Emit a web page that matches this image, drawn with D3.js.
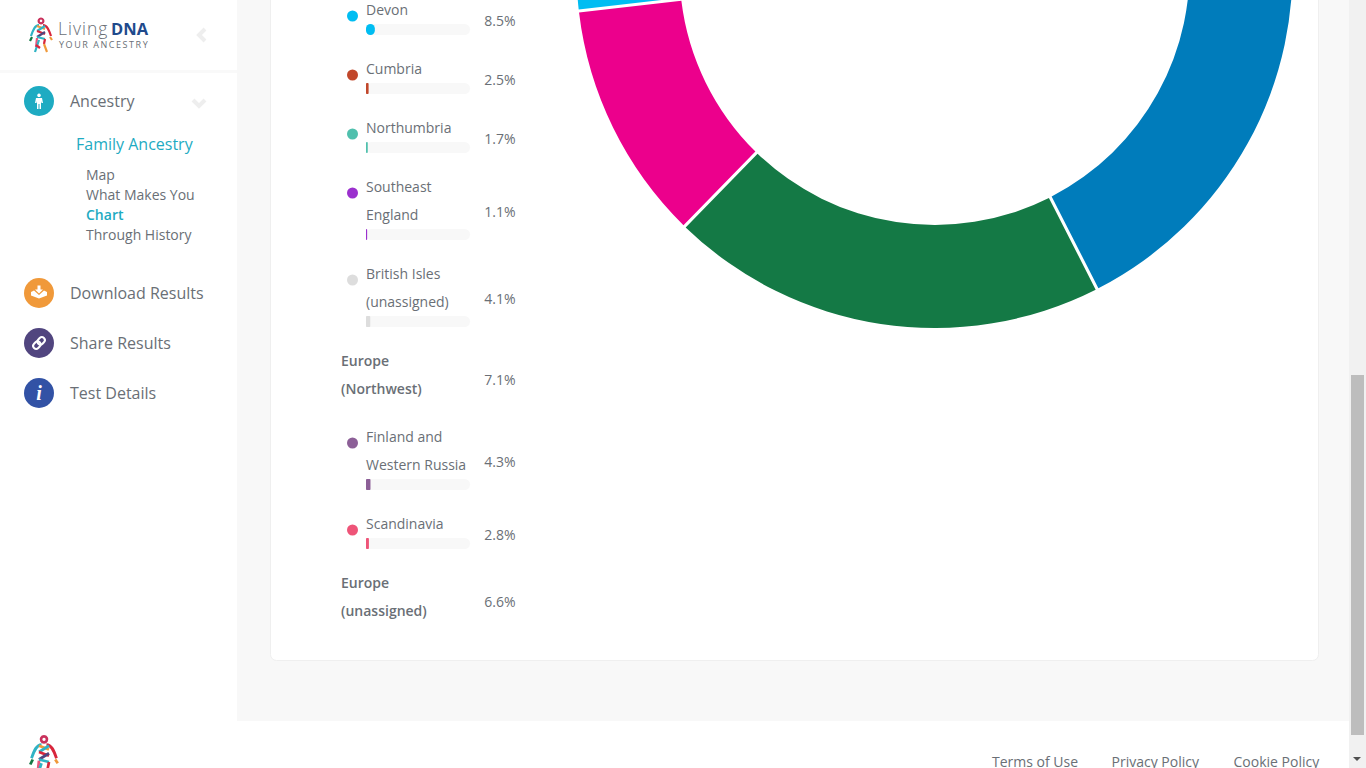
<!DOCTYPE html>
<html>
<head>
<meta charset="utf-8">
<title>Family Ancestry Chart</title>
<script src="https://cdnjs.cloudflare.com/ajax/libs/d3/7.8.5/d3.min.js"></script>
<style>
html, body { margin: 0; padding: 0; overflow: hidden; background: #f8f8f8; }
svg { display: block; }
text { font-family: "Open Sans", sans-serif; fill: #6a6f76; }
</style>
</head>
<body>
<script>
// ring slices, clockwise, most of them scrolled off the top of the page
var ringValues = [37.73, 19.8, 10.87, 8.5, 2.5, 1.7, 1.1, 4.1, 4.3, 2.8, 6.6];
var ringColors = ["#007cbb", "#147945", "#ec008c", "#00bdf2", "#c1472b", "#50c0ad", "#9b30ce", "#dddddd", "#8c5f97", "#ee5478", "#cccccc"];

var legendLabels = [
  ["Devon"], ["Cumbria"], ["Northumbria"], ["Southeast", "England"], ["British Isles", "(unassigned)"],
  ["Europe", "(Northwest)"], ["Finland and", "Western Russia"], ["Scandinavia"], ["Europe", "(unassigned)"]
];
var legendValues = [8.5, 2.5, 1.7, 1.1, 4.1, 7.1, 4.3, 2.8, 6.6];
var legendColors = ["#00bdf2", "#c1472b", "#50c0ad", "#9b30ce", "#dddddd", null, "#8c5f97", "#ee5478", null];

var subMenu = ["Map", "What Makes You", "Chart", "Through History"];
var mainMenu = ["Download Results", "Share Results", "Test Details"];
var mainMenuColors = ["#f0993a", "#51457f", "#3252a5"];
var footerLinks = ["Terms of Use", "Privacy Policy", "Cookie Policy"];

var width = 1366, height = 768;
var teal = "#1eabc2";

var svg = d3.select("body").append("svg")
  .attr("width", width)
  .attr("height", height);

// page blocks
svg.append("rect").attr("width", width).attr("height", height).attr("fill", "#f8f8f8");
svg.append("rect").attr("width", 237).attr("height", height).attr("fill", "#fff");
svg.append("rect").attr("y", 70).attr("width", 237).attr("height", 3).attr("fill", "#f9f9f9");
svg.append("rect").attr("x", 270.5).attr("y", -40).attr("width", 1048).attr("height", 700.5)
  .attr("rx", 6).attr("fill", "#fff").attr("stroke", "#efefef");
svg.append("rect").attr("y", 721).attr("width", width).attr("height", 47).attr("fill", "#fff");
svg.append("rect").attr("x", 1349).attr("width", 17).attr("height", height).attr("fill", "#f1f1f1");
svg.append("rect").attr("x", 1351).attr("y", 375).attr("width", 13).attr("height", 360).attr("fill", "#bdbdbd");
svg.append("path").attr("d", "M1353,757h8l-4,4z").attr("fill", "#505050");

// donut
var cx = 934.5, cy = -30;
var pie = d3.pie().sort(null)
  .startAngle(17.17 * Math.PI / 180)
  .endAngle(377.17 * Math.PI / 180);
var arc = d3.arc().innerRadius(255).outerRadius(358).padAngle(0.007);

svg.append("g").attr("transform", "translate(" + cx + "," + cy + ")")
  .selectAll("path")
  .data(pie(ringValues))
  .enter().append("path")
  .attr("d", arc)
  .attr("fill", function(d, i) { return ringColors[i]; });

// legend
var lineHeight = 28, barHeight = 11, rowGap = 20;
var barScale = d3.scaleLinear().domain([0, 100]).range([0, 104]);
var legend = svg.append("g");
var rowTop = -4;

legendLabels.forEach(function(lines, i) {
  var isGroup = legendColors[i] === null;
  var textH = lines.length * lineHeight;
  var rowH = textH + (isGroup ? 0 : barHeight);
  var textX = isGroup ? 341 : 366;

  lines.forEach(function(line, j) {
    legend.append("text")
      .attr("x", textX)
      .attr("y", rowTop + j * lineHeight + 19)
      .attr("font-size", 14)
      .attr("font-weight", isGroup ? 600 : 400)
      .text(line);
  });

  legend.append("text")
    .attr("x", 515.5)
    .attr("y", rowTop + rowH / 2 + 10.2)
    .attr("text-anchor", "end")
    .attr("font-size", 14)
    .text(legendValues[i].toFixed(1) + "%");

  if (!isGroup) {
    legend.append("circle").attr("cx", 352.5).attr("cy", rowTop + 20).attr("r", 5.5)
      .attr("fill", legendColors[i]);
    legend.append("rect").attr("x", 366).attr("y", rowTop + textH)
      .attr("width", barScale(100)).attr("height", barHeight).attr("rx", 5.5)
      .attr("fill", "#f8f8f8");
    var w = barScale(legendValues[i]);
    legend.append("rect").attr("x", 366).attr("y", rowTop + textH)
      .attr("width", w).attr("height", barHeight)
      .attr("rx", w > 6 ? 4.5 : 0.8)
      .attr("fill", legendColors[i]);
  }
  rowTop += rowH + rowGap;
});

// little dna figure from the logo
var figureBits = [
  ["#c9315c", "M0,-16.5a2.4,2.4 0 1,0 .01,0"],
  ["#2fb3c4", "M-2,-10C-6,-10 -8,-5 -10,1"],
  ["#d8263c", "M2,-10C6,-10 8,-5 10,1"],
  ["#f0993a", "M-4,-9L4,-6"],
  ["#2fb3c4", "M4,-9L-4,-4"],
  ["#d8263c", "M-4,-4L4,-1"],
  ["#51457f", "M4,-3L-4,2"],
  ["#2fb3c4", "M-4,2L4,4"],
  ["#e8567c", "M-4,3L-5,12"],
  ["#2fb3c4", "M-2,5L-6,17"],
  ["#d8263c", "M-5,10L-1,13"],
  ["#d8263c", "M4,4L3,9"],
  ["#f0993a", "M3,9L6,17"],
  ["#147945", "M-9,2L-11,6"],
  ["#f0993a", "M9,2L11,5"]
];

function drawFigure(x, y, k) {
  var g = svg.append("g").attr("transform", "translate(" + x + "," + y + ") scale(" + k + ")");
  figureBits.forEach(function(b) {
    g.append("path").attr("d", b[1]).attr("fill", "none").attr("stroke", b[0])
      .attr("stroke-width", 2.2);
  });
}

drawFigure(41, 35, 1);
drawFigure(44, 757, 1.25);

// logo text
svg.append("text").attr("x", 58).attr("y", 35).attr("font-size", 17.5)
  .attr("font-weight", 300).attr("letter-spacing", 1).text("Living");
svg.append("text").attr("x", 111).attr("y", 35).attr("font-size", 16.5)
  .attr("font-weight", 700).style("fill", "#1f4a8c").text("DNA");
svg.append("text").attr("x", 59).attr("y", 48).attr("font-size", 9)
  .attr("letter-spacing", 1.55).text("YOUR ANCESTRY");

// chevrons
svg.append("path").attr("d", "M205,29l-6,6l6,6").attr("fill", "none").attr("stroke", "#eeeeee").attr("stroke-width", 4);
svg.append("path").attr("d", "M193,100l6,6l6,-6").attr("fill", "none").attr("stroke", "#eeeeee").attr("stroke-width", 4);

// side menu
svg.append("circle").attr("cx", 39).attr("cy", 101).attr("r", 15).attr("fill", teal);
svg.append("path")
  .attr("d", "M39,93.5a1.8,1.8 0 1,0 .01,0M36,98h6l1,5h-1.5l-.5,-2v8h-1.5v-5h-1v5h-1.5v-8l-.5,2h-1.5z")
  .attr("fill", "#fff");
svg.append("text").attr("x", 70).attr("y", 107).attr("font-size", 16).text("Ancestry");
svg.append("text").attr("x", 76).attr("y", 150).attr("font-size", 16).style("fill", teal).text("Family Ancestry");

svg.selectAll(".sub").data(subMenu).enter().append("text")
  .attr("class", "sub")
  .attr("x", 86)
  .attr("y", function(d, i) { return 180 + i * 20; })
  .attr("font-size", 14)
  .attr("font-weight", function(d) { return d === "Chart" ? 600 : 400; })
  .style("fill", function(d) { return d === "Chart" ? teal : null; })
  .text(function(d) { return d; });

mainMenu.forEach(function(name, i) {
  var y = 293 + i * 50;
  svg.append("circle").attr("cx", 39).attr("cy", y).attr("r", 15).attr("fill", mainMenuColors[i]);
  svg.append("text").attr("x", 70).attr("y", y + 6).attr("font-size", 16).text(name);
});

// menu icons
svg.append("path")
  .attr("d", "M37.5,285.5h3v4h2.5l-4,4l-4,-4h2.5zM31,292l3,-1.5l5,4.5l5,-4.5l3,1.5v3.5l-8,3l-8,-3z")
  .attr("fill", "#fff");
svg.append("g").attr("transform", "rotate(-45 39 343)").selectAll("rect")
  .data([33, 39]).enter().append("rect")
  .attr("x", function(d) { return d - 1; }).attr("y", 340).attr("width", 8).attr("height", 6)
  .attr("rx", 3).attr("fill", "none").attr("stroke", "#fff").attr("stroke-width", 2);
svg.append("text").attr("x", 39).attr("y", 400).attr("text-anchor", "middle")
  .attr("font-size", 20).attr("font-weight", 700).attr("font-style", "italic")
  .style("font-family", "'Liberation Serif', serif").style("fill", "#fff").text("i");

// footer
var linkX = [992, 1111.5, 1233.5];
svg.selectAll(".foot").data(footerLinks).enter().append("text")
  .attr("class", "foot")
  .attr("x", function(d, i) { return linkX[i]; })
  .attr("y", 767)
  .attr("font-size", 14)
  .text(function(d) { return d; });
</script>
</body>
</html>
